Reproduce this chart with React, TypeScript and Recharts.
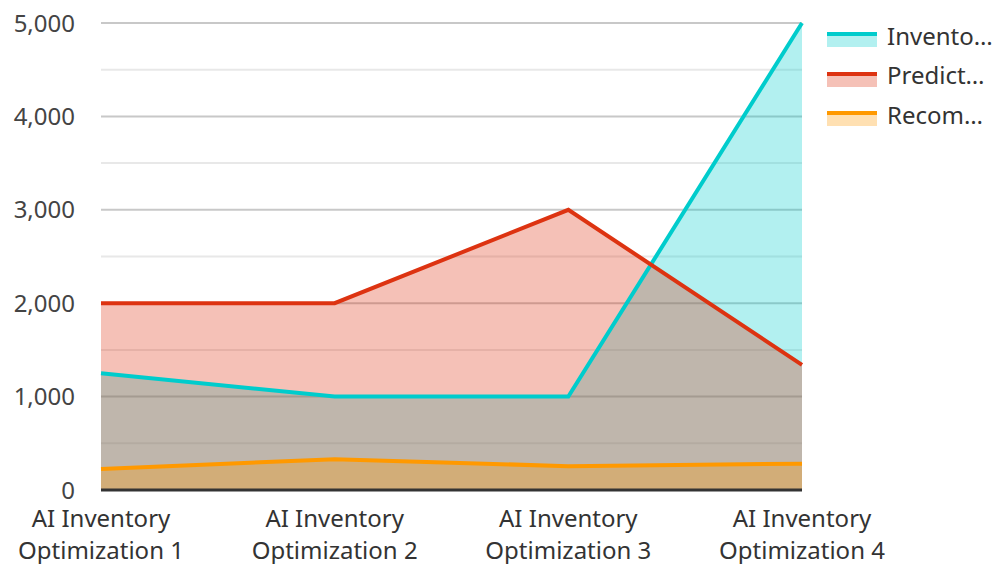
import React from "react";
import {
    ComposedChart, Area, Line, XAxis, YAxis, CartesianGrid,
} from "recharts";

const categories = [
    "AI Inventory Optimization 1",
    "AI Inventory Optimization 2",
    "AI Inventory Optimization 3",
    "AI Inventory Optimization 4",
];
const inventory = [1250, 1000, 1000, 5000];
const predicted = [2000, 2000, 3000, 1340];
const recommended = [225, 330, 255, 282];
const yTicks = [0, 1000, 2000, 3000, 4000, 5000];
const minorTicks = [500, 1500, 2500, 3500, 4500];

const series = [
    { key: "inventory", label: "Invento…", color: "#00CCCC" },
    { key: "predicted", label: "Predict…", color: "#DD3311" },
    { key: "recommended", label: "Recom…", color: "#FF9900" },
];

const data = categories.map((name, i) => ({
    name,
    inventory: inventory[i],
    predicted: predicted[i],
    recommended: recommended[i],
}));

const FONT = "'Noto Sans', 'Open Sans', sans-serif";

const XTick = ({ x, y, payload }: any) => {
    const words = String(payload.value).split(" ");
    const first = words.slice(0, 2).join(" ");
    const second = words.slice(2).join(" ");
    return (
        <text x={x} y={y} textAnchor="middle" fill="#333" fontSize={24} fontFamily={FONT}>
            <tspan x={x} dy={29}>{first}</tspan>
            <tspan x={x} dy={32}>{second}</tspan>
        </text>
    );
};

const LegendBox = () => (
    <div style={{ position: "absolute", left: 827, top: 20, fontFamily: FONT, fontSize: 24, color: "#333" }}>
        {series.map((s) => (
            <div key={s.key} style={{ display: "flex", alignItems: "center", height: 39.5 }}>
                <div style={{ width: 50, height: 15, marginRight: 10, position: "relative" }}>
                    <div style={{ position: "absolute", inset: 0, background: s.color, opacity: 0.3 }} />
                    <div style={{ position: "absolute", left: 0, right: 0, top: 0, height: 4, background: s.color }} />
                </div>
                <span style={{ lineHeight: "24px", marginTop: -8 }}>{s.label}</span>
            </div>
        ))}
    </div>
);

export default function App() {
    return (
        <div style={{ position: "absolute", left: 0, top: 0, width: 999, height: 564 }}>
            <ComposedChart
                width={999}
                height={564}
                data={data}
                margin={{ top: 23, right: 197, left: 21, bottom: 0 }}
            >
                <CartesianGrid vertical={false} stroke="#e8e8e8" strokeWidth={2} horizontalValues={minorTicks} />
                <CartesianGrid vertical={false} stroke="#c8c8c8" strokeWidth={2} horizontalValues={yTicks} />
                <XAxis
                    dataKey="name"
                    height={74}
                    tick={<XTick />}
                    tickLine={false}
                    axisLine={{ stroke: "#333", strokeWidth: 3 }}
                    interval={0}
                />
                <YAxis
                    width={80}
                    domain={[0, 5000]}
                    ticks={yTicks}
                    tickFormatter={(v: number) => v.toLocaleString("en-US")}
                    tick={{ fontSize: 24, fill: "#444", fontFamily: FONT }}
                    axisLine={false}
                    tickLine={false}
                    tickSize={0}
                    tickMargin={26}
                />
                {series.map((s) => (
                    <Area
                        key={"a-" + s.key}
                        type="linear"
                        dataKey={s.key}
                        stroke="none"
                        fill={s.color}
                        fillOpacity={0.3}
                        dot={false}
                        activeDot={false}
                        isAnimationActive={false}
                    />
                ))}
                {series.map((s) => (
                    <Line
                        key={"l-" + s.key}
                        type="linear"
                        dataKey={s.key}
                        stroke={s.color}
                        strokeWidth={4}
                        dot={false}
                        activeDot={false}
                        isAnimationActive={false}
                    />
                ))}
            </ComposedChart>
            <LegendBox />
        </div>
    );
}
